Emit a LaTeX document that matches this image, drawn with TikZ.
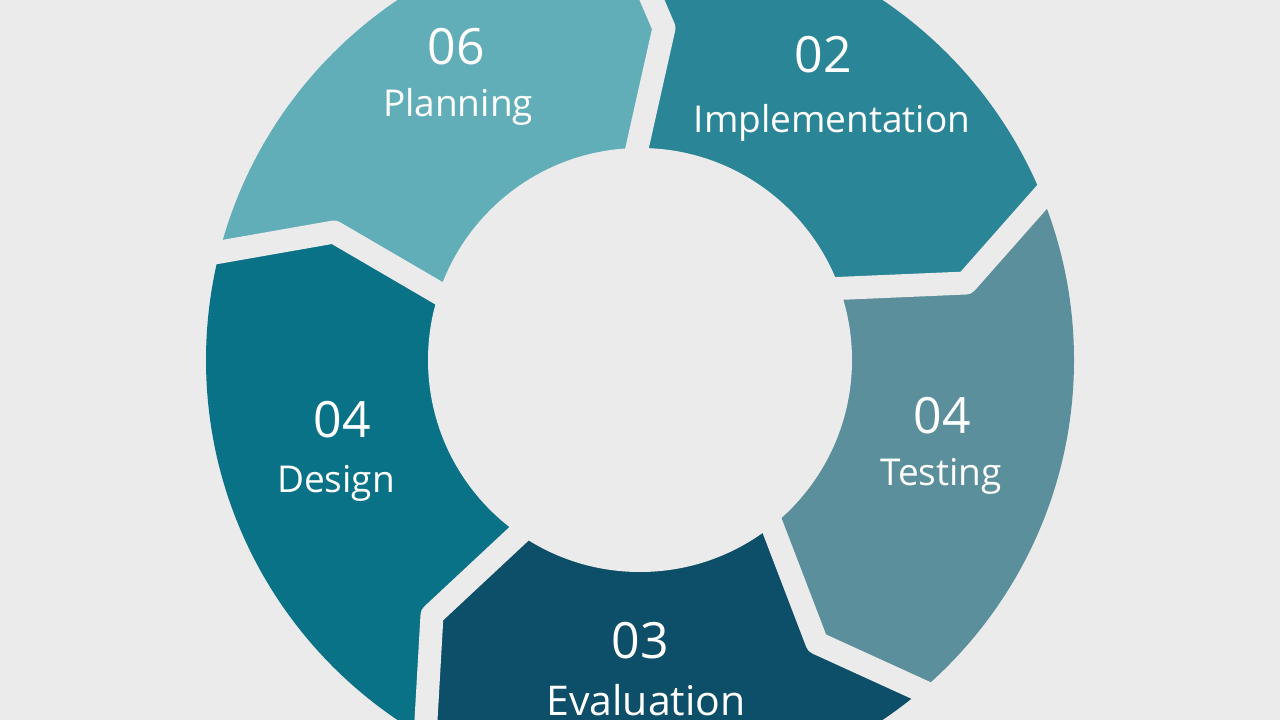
\documentclass[tikz,border=0pt]{standalone}
\usepackage{fontspec}
\setmainfont{Open Sans}
\definecolor{bgc}{HTML}{EBEBEB}
\definecolor{cplan}{HTML}{62AEB8}
\definecolor{cimpl}{HTML}{2A8596}
\definecolor{ctest}{HTML}{5A8F9B}
\definecolor{ceval}{HTML}{0D4E69}
\definecolor{cdes}{HTML}{0A7287}
\tikzset{
  num/.style={text=white, inner sep=0pt, font=\fontsize{50}{50}\selectfont},
  lab/.style={text=white, inner sep=0pt, anchor=base, font=\fontsize{37}{37}\selectfont},
  gapline/.style={draw=bgc, line width=23pt, line join=round},
}
\begin{document}
\begin{tikzpicture}[x=1pt,y=-1pt]
\useasboundingbox (0,0) rectangle (1280,720);
\fill[bgc] (0,0) rectangle (1280,720);
\coordinate (C) at (640,360);
% separators: inner extension, bend, far
\coordinate (Ai) at (629,184); \coordinate (Ab) at (664,28);  \coordinate (Af) at (616,-84);
\coordinate (Bi) at (802,290); \coordinate (Bb) at (966,283); \coordinate (Bf) at (1186,34);
\coordinate (Ci) at (755,481); \coordinate (Cb) at (817,643); \coordinate (Cf) at (1126,784);
\coordinate (Di) at (552,503); \coordinate (Db) at (432,615); \coordinate (Df) at (420,825);
\coordinate (Ei) at (478,316); \coordinate (Eb) at (334,232); \coordinate (Ef) at (-8,292);
\begin{scope}
  \clip (C) circle[radius=434pt];
  \fill[cplan] (C) -- (Ei) -- (Eb) -- (Ef) -- (40,-240) -- (Af) -- (Ab) -- (Ai) -- cycle;
  \fill[cimpl] (C) -- (Ai) -- (Ab) -- (Af) -- (1100,-200) -- (Bf) -- (Bb) -- (Bi) -- cycle;
  \fill[ctest] (C) -- (Bi) -- (Bb) -- (Bf) -- (1300,400) -- (Cf) -- (Cb) -- (Ci) -- cycle;
  \fill[ceval] (C) -- (Ci) -- (Cb) -- (Cf) -- (800,1000) -- (Df) -- (Db) -- (Di) -- cycle;
  \fill[cdes]  (C) -- (Di) -- (Db) -- (Df) -- (0,800) -- (Ef) -- (Eb) -- (Ei) -- cycle;
\end{scope}
\fill[bgc] (C) circle[radius=212pt];
\draw[gapline] (Ai) -- (Ab) -- (Af);
\draw[gapline] (Bi) -- (Bb) -- (Bf);
\draw[gapline] (Ci) -- (Cb) -- (Cf);
\draw[gapline] (Di) -- (Db) -- (Df);
\draw[gapline] (Ei) -- (Eb) -- (Ef);
% labels
\node[num] (n6) at (456,47) {06};
\node[lab] (lplan) at (458,116) {Planning};
\node[num] (n2) at (823,55) {02};
\node[lab] (limpl) at (832,132) {Implementation};
\node[num] (n4a) at (942,416) {04};
\node[lab] (ltest) at (941,485) {Testing};
\node[num] (n3) at (640,641) {03};
\node[lab, font=\fontsize{41}{41}\selectfont] (leval) at (646,715) {Evaluation};
\node[num] (n4b) at (342,420) {04};
\node[lab] (ldes) at (336,492) {Design};
\end{tikzpicture}
\end{document}
